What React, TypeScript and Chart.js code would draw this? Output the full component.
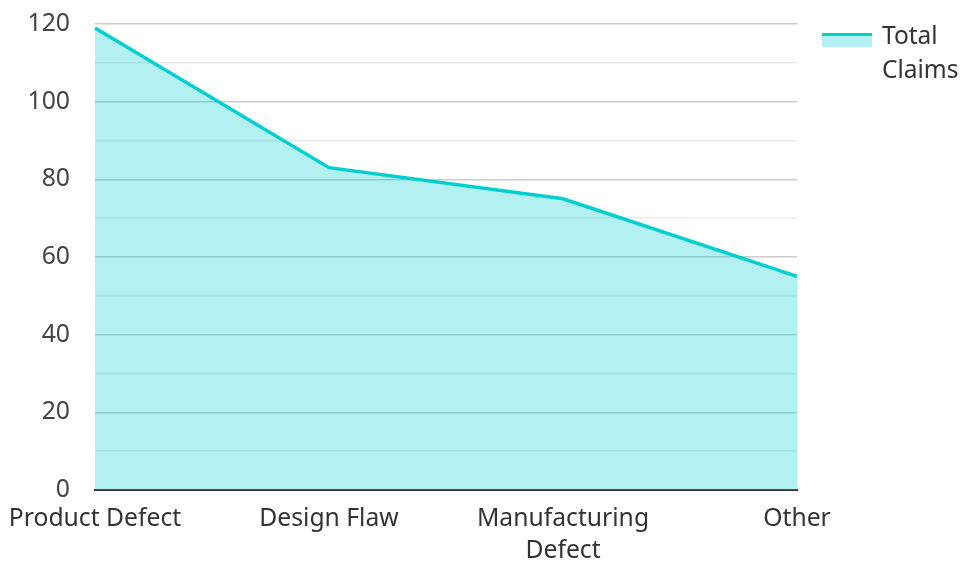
import React, { useEffect, useRef } from "react";
import { Chart, registerables } from "chart.js";

Chart.register(...registerables);

const categories: (string | string[])[] = ["Product Defect", "Design Flaw", ["Manufacturing", "Defect"], "Other"];
const totalClaims: number[] = [119, 83, 75, 55];
const seriesLabel = "Total Claims";
const yMin = 0;
const yMax = 120;
const yStep = 10;

const LINE = "#00CED1";
const FILL = "rgba(0,206,209,0.3)";
const FONT = "'Noto Sans', 'Open Sans', sans-serif";

export default function App() {
  const ref = useRef<HTMLCanvasElement | null>(null);

  useEffect(() => {
    document.body.style.margin = "0";
    const canvas = ref.current;
    if (!canvas) return;
    const chart = new Chart(canvas, {
      type: "line",
      data: {
        labels: categories,
        datasets: [
          {
            label: seriesLabel,
            data: totalClaims,
            borderColor: LINE,
            backgroundColor: FILL,
            borderWidth: 3.5,
            fill: "origin",
            pointRadius: 0,
            tension: 0,
          },
        ],
      },
      options: {
        animation: false,
        responsive: false,
        maintainAspectRatio: false,
        layout: { padding: { top: 24, right: 165, left: 10, bottom: 0 } },
        plugins: {
          legend: { display: false },
          tooltip: { enabled: false },
        },
        scales: {
          x: {
            offset: false,
            afterFit: (scale: any) => {
              scale.height = 72;
              scale.paddingLeft = 0;
              scale.paddingRight = 0;
            },
            grid: { display: false, drawTicks: false },
            border: { display: true, color: "#333333", width: 2 },
            ticks: {
              color: "#333333",
              font: { family: FONT, size: 24.7, lineHeight: 1.3 },
              padding: 13,
              maxRotation: 0,
              autoSkip: false,
            },
          },
          y: {
            min: yMin,
            max: yMax,
            afterFit: (scale: any) => {
              scale.width = 85;
              scale.paddingTop = 0;
              scale.paddingBottom = 0;
            },
            border: { display: false },
            grid: {
              drawTicks: false,
              lineWidth: 1.5,
              color: (ctx: any) => {
                const v = ctx.tick ? ctx.tick.value : 0;
                if (v === 0) return "rgba(0,0,0,0)";
                return v % 20 === 0 ? "#cccccc" : "#ebebeb";
              },
            },
            ticks: {
              stepSize: yStep,
              color: "#444444",
              padding: 25,
              font: { family: FONT, size: 24.8 },
              callback: (v: any) => (Number(v) % 20 === 0 ? String(v) : ""),
            },
          },
        },
      },
    });
    return () => chart.destroy();
  }, []);

  return (
    <div style={{ position: "fixed", left: 0, top: 0, width: 962, height: 562, background: "#fff" }}>
      <canvas ref={ref} width={962} height={562} style={{ width: 962, height: 562, display: "block" }} />
      <div
        style={{
          position: "absolute",
          left: 822,
          top: 18,
          display: "flex",
          alignItems: "flex-start",
          fontFamily: FONT,
          fontSize: 24.5,
          color: "#333333",
          lineHeight: "34px",
        }}
      >
        <div style={{ width: 50, marginTop: 15, marginRight: 10 }}>
          <div style={{ height: 3, background: LINE }} />
          <div style={{ height: 11, background: FILL }} />
        </div>
        <div style={{ width: 80 }}>{seriesLabel}</div>
      </div>
    </div>
  );
}
